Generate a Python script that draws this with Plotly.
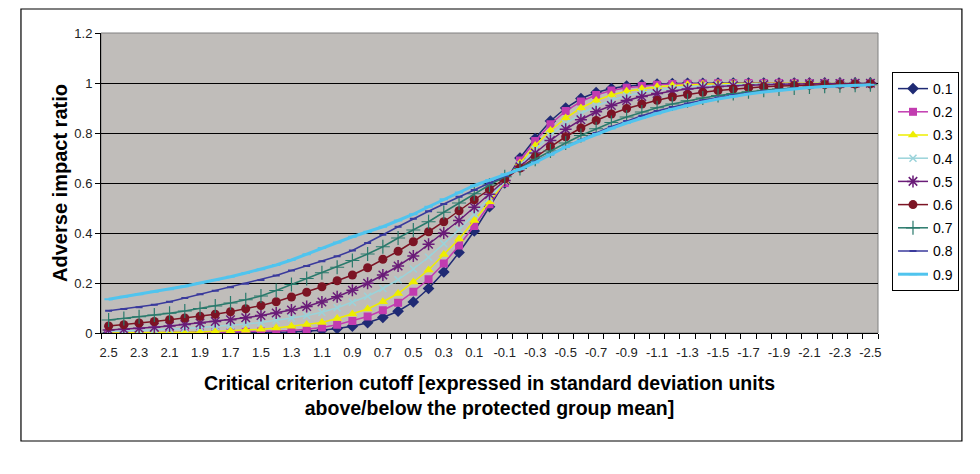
import plotly.graph_objects as go

# Cutoff (SD units above/below protected group mean)
x_vals = [2.5, 2.4, 2.3, 2.2, 2.1, 2.0, 1.9, 1.8, 1.7, 1.6,
          1.5, 1.4, 1.3, 1.2, 1.1, 1.0, 0.9, 0.8, 0.7, 0.6,
          0.5, 0.4, 0.3, 0.2, 0.1, 0.0, -0.1, -0.2, -0.3, -0.4,
          -0.5, -0.6, -0.7, -0.8, -0.9, -1.0, -1.1, -1.2, -1.3, -1.4,
          -1.5, -1.6, -1.7, -1.8, -1.9, -2.0, -2.1, -2.2, -2.3, -2.4, -2.5]

tick_vals = [2.5, 2.3, 2.1, 1.9, 1.7, 1.5, 1.3, 1.1, 0.9, 0.7, 0.5, 0.3, 0.1,
             -0.1, -0.3, -0.5, -0.7, -0.9, -1.1, -1.3, -1.5, -1.7, -1.9, -2.1, -2.3, -2.5]
tick_text = ["2.5", "2.3", "2.1", "1.9", "1.7", "1.5", "1.3", "1.1", "0.9", "0.7", "0.5", "0.3", "0.1",
             "-0.1", "-0.3", "-0.5", "-0.7", "-0.9", "-1.1", "-1.3", "-1.5", "-1.7", "-1.9", "-2.1", "-2.3", "-2.5"]

series_names = ["0.1", "0.2", "0.3", "0.4", "0.5", "0.6", "0.7", "0.8", "0.9"]

s01 = [0.000, 0.000, 0.000, 0.000, 0.000, 0.000, 0.001, 0.001, 0.001, 0.002,
       0.002, 0.003, 0.004, 0.007, 0.011, 0.018, 0.027, 0.041, 0.062, 0.087,
       0.124, 0.178, 0.244, 0.322, 0.408, 0.505, 0.600, 0.700, 0.778, 0.848,
       0.900, 0.938, 0.962, 0.978, 0.988, 0.993, 0.996, 0.998, 0.999, 0.999,
       1.000, 1.000, 1.000, 1.000, 1.000, 1.000, 1.000, 1.000, 1.000, 1.000, 1.000]
s02 = [0.000, 0.000, 0.001, 0.001, 0.001, 0.002, 0.002, 0.003, 0.004, 0.005,
       0.006, 0.008, 0.010, 0.015, 0.022, 0.033, 0.048, 0.066, 0.091, 0.121,
       0.165, 0.215, 0.278, 0.350, 0.428, 0.515, 0.600, 0.690, 0.768, 0.835,
       0.888, 0.926, 0.952, 0.970, 0.981, 0.988, 0.993, 0.996, 0.997, 0.998,
       0.999, 0.999, 1.000, 1.000, 1.000, 1.000, 1.000, 1.000, 1.000, 1.000, 1.000]
s03 = [0.000, 0.000, 0.001, 0.001, 0.002, 0.003, 0.004, 0.006, 0.008, 0.011,
       0.015, 0.020, 0.027, 0.034, 0.042, 0.058, 0.076, 0.096, 0.125, 0.158,
       0.204, 0.252, 0.314, 0.376, 0.450, 0.525, 0.605, 0.680, 0.750, 0.810,
       0.860, 0.900, 0.930, 0.952, 0.967, 0.977, 0.985, 0.990, 0.993, 0.995,
       0.997, 0.998, 0.999, 0.999, 0.999, 1.000, 1.000, 1.000, 1.000, 1.000, 1.000]
s04 = [0.006, 0.008, 0.010, 0.012, 0.015, 0.018, 0.022, 0.026, 0.030, 0.036,
       0.042, 0.050, 0.060, 0.070, 0.083, 0.101, 0.123, 0.147, 0.178, 0.213,
       0.256, 0.303, 0.357, 0.413, 0.476, 0.540, 0.607, 0.672, 0.735, 0.790,
       0.838, 0.877, 0.908, 0.931, 0.949, 0.962, 0.972, 0.979, 0.985, 0.989,
       0.992, 0.994, 0.996, 0.997, 0.998, 0.998, 0.999, 0.999, 0.999, 1.000, 1.000]
s05 = [0.012, 0.015, 0.019, 0.023, 0.028, 0.034, 0.040, 0.046, 0.053, 0.061,
       0.070, 0.080, 0.092, 0.106, 0.124, 0.145, 0.171, 0.199, 0.232, 0.268,
       0.308, 0.355, 0.400, 0.450, 0.503, 0.555, 0.610, 0.665, 0.720, 0.770,
       0.815, 0.853, 0.885, 0.910, 0.930, 0.946, 0.958, 0.968, 0.976, 0.982,
       0.986, 0.989, 0.992, 0.994, 0.995, 0.996, 0.997, 0.998, 0.998, 0.999, 0.999]
s06 = [0.028, 0.033, 0.040, 0.046, 0.053, 0.060, 0.067, 0.075, 0.085, 0.097,
       0.110, 0.125, 0.144, 0.163, 0.185, 0.209, 0.232, 0.261, 0.295, 0.327,
       0.365, 0.405, 0.445, 0.489, 0.533, 0.575, 0.617, 0.660, 0.705, 0.745,
       0.785, 0.820, 0.850, 0.876, 0.898, 0.916, 0.931, 0.944, 0.954, 0.963,
       0.970, 0.976, 0.981, 0.985, 0.988, 0.990, 0.992, 0.994, 0.995, 0.996, 0.997]
s07 = [0.052, 0.058, 0.065, 0.072, 0.079, 0.088, 0.098, 0.108, 0.120, 0.133,
       0.148, 0.170, 0.194, 0.218, 0.241, 0.263, 0.290, 0.316, 0.345, 0.380,
       0.412, 0.445, 0.483, 0.520, 0.557, 0.592, 0.625, 0.658, 0.695, 0.728,
       0.760, 0.790, 0.817, 0.842, 0.864, 0.884, 0.901, 0.916, 0.929, 0.940,
       0.950, 0.958, 0.965, 0.971, 0.976, 0.980, 0.984, 0.987, 0.989, 0.991, 0.993]
s08 = [0.089, 0.096, 0.103, 0.113, 0.125, 0.140, 0.155, 0.169, 0.183, 0.197,
       0.212, 0.230, 0.250, 0.268, 0.287, 0.307, 0.330, 0.360, 0.393, 0.425,
       0.457, 0.487, 0.516, 0.545, 0.572, 0.600, 0.628, 0.656, 0.685, 0.715,
       0.745, 0.773, 0.800, 0.825, 0.848, 0.869, 0.888, 0.904, 0.918, 0.931,
       0.942, 0.952, 0.960, 0.967, 0.973, 0.978, 0.982, 0.985, 0.988, 0.990, 0.992]
s09 = [0.135, 0.145, 0.155, 0.165, 0.175, 0.187, 0.200, 0.212, 0.225, 0.240,
       0.255, 0.272, 0.292, 0.315, 0.340, 0.362, 0.385, 0.405, 0.425, 0.450,
       0.475, 0.505, 0.535, 0.562, 0.590, 0.612, 0.635, 0.655, 0.682, 0.714,
       0.744, 0.770, 0.795, 0.818, 0.840, 0.860, 0.878, 0.895, 0.910, 0.924,
       0.936, 0.947, 0.956, 0.964, 0.971, 0.977, 0.982, 0.986, 0.989, 0.991, 0.993]

series_values = [s01, s02, s03, s04, s05, s06, s07, s08, s09]

styles = [
    dict(color="#1F2A74", symbol="diamond", size=9, lw=1.5, mlw=0),
    dict(color="#C23CB0", symbol="square", size=8, lw=1.5, mlw=0),
    dict(color="#EEEE00", symbol="triangle-up", size=9, lw=1.5, mlw=0),
    dict(color="#9AD3DA", symbol="x-thin-open", size=7, lw=1.5, mlw=1.5),
    dict(color="#6A1C78", symbol="asterisk-open", size=10, lw=1.5, mlw=1.5),
    dict(color="#7C1424", symbol="circle", size=9, lw=1.5, mlw=0),
    dict(color="#2A7A6C", symbol="cross-thin-open", size=10, lw=1.5, mlw=1.2),
    dict(color="#3A3A9C", symbol="line-ew-open", size=5, lw=1.5, mlw=2),
    dict(color="#50C4EE", symbol="line-ew-open", size=6, lw=3, mlw=2),
]

FONT = "Liberation Sans, Arial, sans-serif"

fig = go.Figure()
for name, vals, st in zip(series_names, series_values, styles):
    fig.add_trace(go.Scatter(
        x=x_vals, y=vals, name=name, mode="lines+markers",
        legendgroup=name,
        line=dict(color=st["color"], width=st["lw"]),
        marker=dict(symbol=st["symbol"], size=st["size"], color=st["color"],
                    line=dict(color=st["color"], width=st["mlw"])),
    ))

# plot-area grey frame (top/right)
fig.add_shape(type="rect", xref="paper", yref="paper", x0=0, y0=0, x1=1, y1=1,
              line=dict(color="#808080", width=1), layer="below")
# outer chart border
fig.add_shape(type="rect", xref="paper", yref="paper",
              x0=-0.103, x1=1.108, y0=-0.36, y1=1.08,
              line=dict(color="black", width=1.2))

fig.update_layout(
    width=980, height=474,
    margin=dict(l=101, r=102, t=33, b=141),
    paper_bgcolor="white",
    plot_bgcolor="#C0BDBA",
    font=dict(family=FONT, color="#222222", size=13),
    showlegend=True,
    legend=dict(x=1.018, y=0.87, xanchor="left", yanchor="top",
                bordercolor="black", borderwidth=1, bgcolor="white",
                font=dict(family=FONT, size=14, color="black"),
                itemwidth=30, tracegroupgap=2),
    xaxis=dict(
        range=[2.55, -2.55],
        tickmode="array", tickvals=tick_vals, ticktext=tick_text,
        ticks="outside", ticklen=7, tickcolor="rgba(0,0,0,0)",
        showgrid=False, zeroline=False,
        showline=True, linecolor="black", linewidth=1,
        tickfont=dict(family=FONT, size=13, color="#222222"),
        minor=dict(ticks="outside", tick0=2.55, dtick=0.1, ticklen=5,
                   tickcolor="black", tickwidth=1, showgrid=False),
        title=dict(text="<b>Critical criterion cutoff [expressed in standard deviation units<br>above/below the protected group mean]</b>",
                   font=dict(family=FONT, size=19.5, color="black"), standoff=17),
    ),
    yaxis=dict(
        range=[0, 1.2], tickmode="linear", tick0=0, dtick=0.2,
        showgrid=True, gridcolor="black", gridwidth=1,
        zeroline=False, showline=True, linecolor="black", linewidth=1,
        ticks="outside", ticklen=5, tickcolor="black",
        tickfont=dict(family=FONT, size=13, color="#222222"),
        title=dict(text="<b>Adverse impact ratio</b>",
                   font=dict(family=FONT, size=20, color="black"), standoff=1),
    ),
)

fig.write_html("out.html")
